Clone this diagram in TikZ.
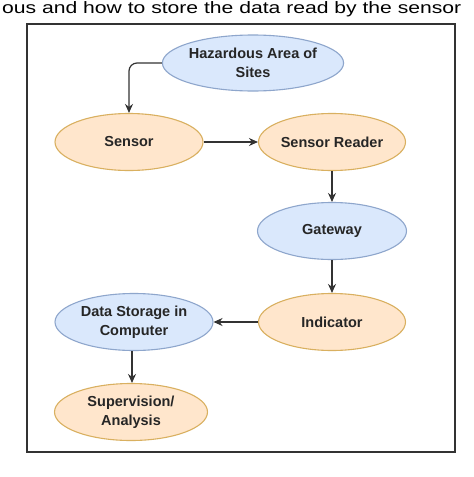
\documentclass[tikz,border=0pt]{standalone}
\usepackage{fontspec}
\setmainfont{Liberation Sans}
\usetikzlibrary{shapes.geometric,arrows.meta}
\definecolor{bluefill}{HTML}{DAE8FC}
\definecolor{bluedraw}{HTML}{8EA6CC}
\definecolor{orfill}{HTML}{FFE6CC}
\definecolor{ordraw}{HTML}{D9B060}
\definecolor{txt}{HTML}{262626}
\definecolor{ln}{HTML}{333333}
\tikzset{
  x=1pt, y=-1pt,
  base/.style={ellipse, inner sep=0pt, line width=1.1pt, text=txt, align=center,
    font=\fontsize{14.5}{19}\selectfont\bfseries},
  bluenode/.style={base, fill=bluefill, draw=bluedraw},
  ornode/.style={base, fill=orfill, draw=ordraw},
  conn/.style={draw=ln, line width=1.2pt, -{Stealth[length=9pt,width=8pt]}}
}
\begin{document}
\begin{tikzpicture}
\useasboundingbox (0,0) rectangle (474,477);
\fill[white] (0,0) rectangle (474,477);
\node[anchor=base west, font=\fontsize{16.5}{20}\selectfont, text=black, inner sep=0pt] (toptext) at (2,13.5) {\scalebox{1.28}[1]{ous and how to store the data read by the sensor}};
\draw[line width=1.2pt, draw=ln] (27,24) rectangle (455,452);
\node[bluenode, minimum width=160pt, minimum height=56pt] (haz) at (253,63) {Hazardous Area of\\Sites};
\node[ornode, minimum width=148pt, minimum height=57pt] (sensor) at (129,142) {Sensor};
\node[ornode, minimum width=147pt, minimum height=57pt] (reader) at (332,142) {Sensor Reader};
\node[bluenode, minimum width=149pt, minimum height=57pt] (gate) at (332,231) {Gateway};
\node[ornode, minimum width=147pt, minimum height=57pt] (ind) at (332,322) {Indicator};
\node[bluenode, minimum width=158pt, minimum height=57pt] (store) at (134,322) {Data Storage in\\Computer};
\node[ornode, minimum width=153pt, minimum height=57pt] (sup) at (131,412) {Supervision/\\Analysis};
\draw[conn, rounded corners=8pt] (haz.west) -| (sensor.north);
\draw[conn] (sensor.east) -- (reader.west);
\draw[conn] (reader.south) -- (gate.north);
\draw[conn] (gate.south) -- (ind.north);
\draw[conn] (ind.west) -- (store.east);
\draw[conn] (store.south -| 132,0) -- (sup.north -| 132,0);
\end{tikzpicture}
\end{document}
